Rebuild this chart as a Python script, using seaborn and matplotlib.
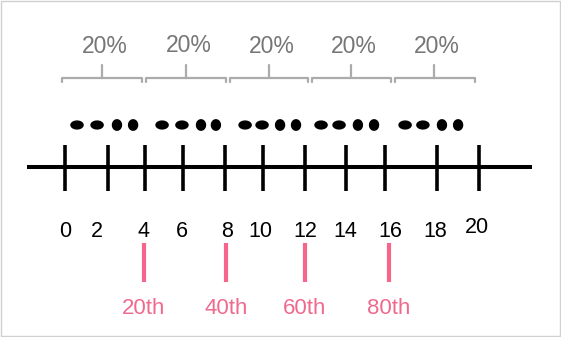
import numpy as np
import pandas as pd
import seaborn as sns
import matplotlib
matplotlib.use("Agg")
import matplotlib.pyplot as plt
from matplotlib.patches import Rectangle

# ---------------- data (number-line units) ----------------
tick_values = [0, 2, 4, 6, 8, 10, 12, 14, 16, 18, 20]
tick_pos = [0.0, 2.08, 3.86, 5.70, 7.73, 9.57, 11.59, 13.57, 15.46, 17.97, 20.0]
tick_label_pos = [0.0, 1.55, 3.77, 5.65, 7.83, 9.42, 11.59, 13.53, 15.70, 17.87, 19.90]

dot_values = [0.58, 1.55, 2.51, 3.29,
              4.69, 5.65, 6.57, 7.29,
              8.70, 9.52, 10.39, 11.16,
              12.37, 13.24, 14.15, 14.93,
              16.43, 17.29, 18.21, 18.99]

share_labels = ["20%", "20%", "20%", "20%", "20%"]
share_label_pos = [1.93, 5.99, 10.0, 13.96, 17.97]
bracket_left = [-0.145, 3.91, 7.97, 11.93, 15.94]
bracket_right = [3.72, 7.79, 11.74, 15.75, 19.81]
bracket_mid = [1.79, 5.85, 9.86, 13.82, 17.83]

percentile_labels = ["20th", "40th", "60th", "80th"]
percentile_pos = [3.81, 7.79, 11.59, 15.64]

# ---------------- layout ----------------
W, H, DPI = 561, 337, 100
X0_PX, PX_PER_UNIT = 65.0, 20.7

sns.set_theme(style="white")
plt.rcParams["font.family"] = ["Liberation Sans", "DejaVu Sans"]

fig = plt.figure(figsize=(W / DPI, H / DPI), dpi=DPI)
ax = fig.add_axes([0, 0, 1, 1])
ax.set_xlim(-X0_PX / PX_PER_UNIT, (W - X0_PX) / PX_PER_UNIT)
ax.set_ylim(H, 0)
ax.axis("off")

# number line
line_y = 167
ax.plot([(27 - X0_PX) / PX_PER_UNIT, (532 - X0_PX) / PX_PER_UNIT], [line_y, line_y],
        color="black", lw=2.9, solid_capstyle="butt")
ax.vlines(tick_pos, 145, 191, color="black", lw=2.6)
for v, p in zip(tick_values, tick_label_pos):
    base = 233 if v == 20 else 237
    ax.text(p, base, str(v), ha="center", va="baseline", fontsize=15.5, color="black")

# dots
df = pd.DataFrame({"x": dot_values, "y": [125] * len(dot_values),
                   "shape": ["wide" if i % 4 < 2 else "tall" for i in range(len(dot_values))]})
t = np.linspace(0, 2 * np.pi, 40)
wide = np.column_stack([np.cos(t), 0.68 * np.sin(t)])
tall = np.column_stack([0.88 * np.cos(t), np.sin(t)])
sub = df[df["shape"] == "wide"]
sns.scatterplot(data=sub, x="x", y="y", marker=wide, s=95, color="black",
                edgecolor="none", ax=ax, legend=False)
sub = df[df["shape"] == "tall"]
sns.scatterplot(data=sub, x="x", y="y", marker=tall, s=72, color="black",
                edgecolor="none", ax=ax, legend=False)

# brackets
gray = "#ababab"
for l, r, m in zip(bracket_left, bracket_right, bracket_mid):
    ax.plot([l, l, r, r], [81.5, 78, 78, 81.5], color=gray, lw=1.6,
            solid_joinstyle="round")
    ax.plot([m, m], [78, 65], color=gray, lw=1.6)
for i, (lab, p) in enumerate(zip(share_labels, share_label_pos)):
    base = 51.5 if i == 1 else 53
    ax.text(p, base, lab, ha="center", va="baseline", fontsize=16.5, color="#767676")

# percentile markers
pink_line = "#f7668a"
pink_text = "#f06a8e"
for lab, p in zip(percentile_labels, percentile_pos):
    ax.plot([p, p], [243, 282], color=pink_line, lw=3.0, solid_capstyle="butt")
    ax.text(p, 314.5, lab, ha="center", va="baseline", fontsize=16, color=pink_text)

# border
fig.patches.append(Rectangle((0.5 / W, 1 - 335.5 / H), 559 / W, 335 / H,
                             transform=fig.transFigure, fill=False,
                             edgecolor="#d0d0d0", lw=1.0))

fig.savefig("out.png", dpi=DPI)
